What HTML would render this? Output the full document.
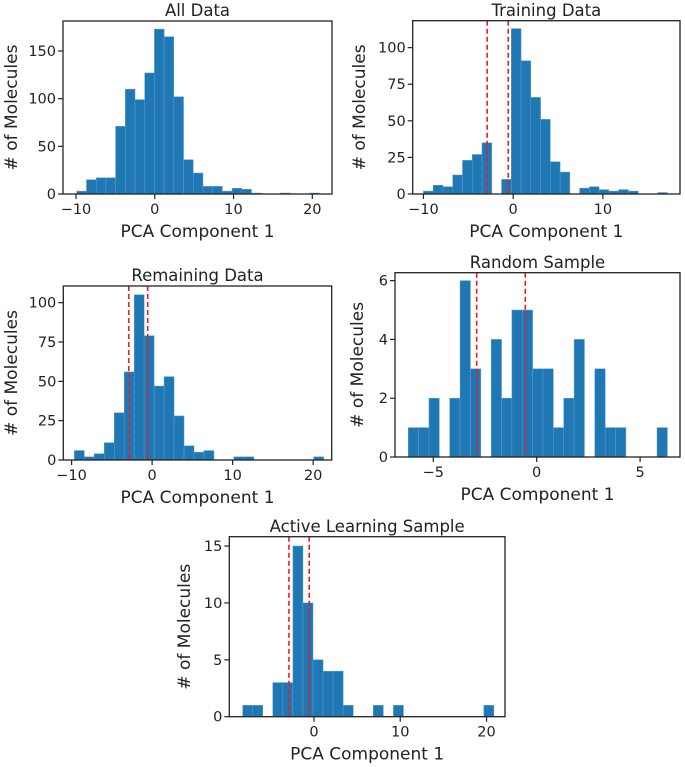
<!DOCTYPE html>
<html><head><meta charset="utf-8"><style>
html,body{margin:0;padding:0;background:#fff;width:685px;height:767px;overflow:hidden}
svg{display:block;font-family:"DejaVu Sans","Liberation Sans",sans-serif}
</style></head><body>
<svg id="fig" width="685" height="767" viewBox="0 0 685 767"></svg>
<script>
// ---- data ----
const allCounts = [3,15,17,17,71,110,99,127,173,165,102,36,22,8,8,3,6,5,1,0,0,1,0,0,1];
const allRange = [-9.9, 20.9];
const trainCounts = [2,6,5,13,23,27,35,0,10,113,91,66,51,22,15,0,4,5,3,2,3,2,0,0,1];
const trainRange = [-10, 17.2];
const remainCounts = [6,2,4,11,30,56,105,79,47,53,28,9,5,6,0,0,2,2,0,0,0,0,0,0,2];
const remainRange = [-9.66, 21.3];
const randomCounts = [1,1,2,0,2,6,3,0,4,2,5,5,3,3,1,2,4,0,3,1,1,0,0,0,1];
const randomRange = [-6.21, 6.32];
const activeCounts = [1,1,0,3,3,15,10,5,4,4,1,0,0,1,0,1,0,0,0,0,0,0,0,0,1];
const activeRange = [-8.26, 20.85];
const thresholds = [-2.9, -0.55];
const titles = ["All Data","Training Data","Remaining Data","Random Sample","Active Learning Sample"];
const xTicks1 = [-10,0,10,20], yTicks1 = [0,50,100,150];
const xTicks2 = [-10,0,10], yTicks2 = [0,25,50,75,100];
const xTicks3 = [-10,0,10,20], yTicks3 = [0,25,50,75,100];
const xTicks4 = [-5,0,5], yTicks4 = [0,2,4,6];
const xTicks5 = [0,10,20], yTicks5 = [0,5,10,15];

// ---- layout ----
const panels = [
 {id:'all', counts:allCounts, range:allRange, xt:xTicks1, yt:yTicks1, lines:false,
  L:63,R:332,T:21,B:194, xd:[-11.65,22.5], yd:[0,181.5], ty:16, yl:12},
 {id:'training', counts:trainCounts, range:trainRange, xt:xTicks2, yt:yTicks2, lines:true,
  L:412.7,R:680,T:20.7,B:194, xd:[-11.2,18.6], yd:[0,118.4], ty:16, yl:360},
 {id:'remaining', counts:remainCounts, range:remainRange, xt:xTicks3, yt:yTicks3, lines:true,
  L:63.3,R:331.7,T:286,B:460, xd:[-11.03,22.3], yd:[0,110.6], ty:281, yl:12},
 {id:'random', counts:randomCounts, range:randomRange, xt:xTicks4, yt:yTicks4, lines:true,
  L:395,R:680,T:272.7,B:457, xd:[-6.85,6.93], yd:[0,6.27], ty:268, yl:358},
 {id:'active', counts:activeCounts, range:activeRange, xt:xTicks5, yt:yTicks5, lines:true,
  L:229.3,R:505,T:536.7,B:716.7, xd:[-9.81,22.14], yd:[0,15.82], ty:532, yl:185},
];
const NS='http://www.w3.org/2000/svg';
const svg=document.getElementById('fig');
function mk(tag,attrs,parent){const e=document.createElementNS(NS,tag);for(const k in attrs)e.setAttribute(k,attrs[k]);(parent||svg).appendChild(e);return e;}
function fmt(v){return v<0?'\u2212'+Math.abs(v):String(v);}
panels.forEach((p,i)=>{
  const g=mk('g',{});
  
  
  const xs=v=>p.L+(v-p.xd[0])/(p.xd[1]-p.xd[0])*(p.R-p.L);
  const ys=v=>p.B-(v-p.yd[0])/(p.yd[1]-p.yd[0])*(p.B-p.T);
  const n=p.counts.length, w=(p.range[1]-p.range[0])/n;
  p.counts.forEach((c,k)=>{
    if(c<=0)return;
    const x0=xs(p.range[0]+k*w), x1=xs(p.range[0]+(k+1)*w);
    const r=mk('rect',{x:x0,y:ys(c),width:x1-x0,height:ys(0)-ys(c),fill:'#1f77b4',stroke:'#5a9fd0','stroke-width':0.5},g);
    
    
  });
  if(p.lines){thresholds.forEach(t=>{
    const l=mk('line',{x1:xs(t),x2:xs(t),y1:p.T,y2:p.B,stroke:'#ee1c1c','stroke-width':1.6,'stroke-dasharray':'5,3'},g);
    
    
  });}
  const fr=mk('rect',{x:p.L,y:p.T,width:p.R-p.L,height:p.B-p.T,fill:'none',stroke:'#222','stroke-width':1.3},g);
  
  
  p.xt.forEach(v=>{
    const x=xs(v);
    mk('line',{x1:x,x2:x,y1:p.B,y2:p.B+5,stroke:'#222','stroke-width':1.2},g);
    const t=mk('text',{x:x,y:p.B+20,'text-anchor':'middle','font-size':14.5,fill:'#222'},g);
    t.textContent=fmt(v);
    
    
  });
  p.yt.forEach(v=>{
    const y=ys(v);
    mk('line',{x1:p.L-5,x2:p.L,y1:y,y2:y,stroke:'#222','stroke-width':1.2},g);
    const t=mk('text',{x:p.L-7,y:y+5,'text-anchor':'end','font-size':14.5,fill:'#222'},g);
    t.textContent=fmt(v);
    
    
  });
  const tt=mk('text',{x:(p.L+p.R)/2,y:p.ty,'text-anchor':'middle','font-size':16.5,fill:'#222'},g);
  tt.textContent=titles[i];
  
  
  const xl=mk('text',{x:(p.L+p.R)/2,y:p.B+43,'text-anchor':'middle','font-size':17,fill:'#222'},g);
  xl.textContent='PCA Component 1';
  
  
  const cy=(p.T+p.B)/2;
  const yl=mk('text',{x:p.yl,y:cy,'text-anchor':'middle','font-size':17,fill:'#222',transform:`rotate(-90 ${p.yl} ${cy})`,'dominant-baseline':'middle'},g);
  yl.textContent='# of Molecules';
  
  
});
</script>
</body></html>
